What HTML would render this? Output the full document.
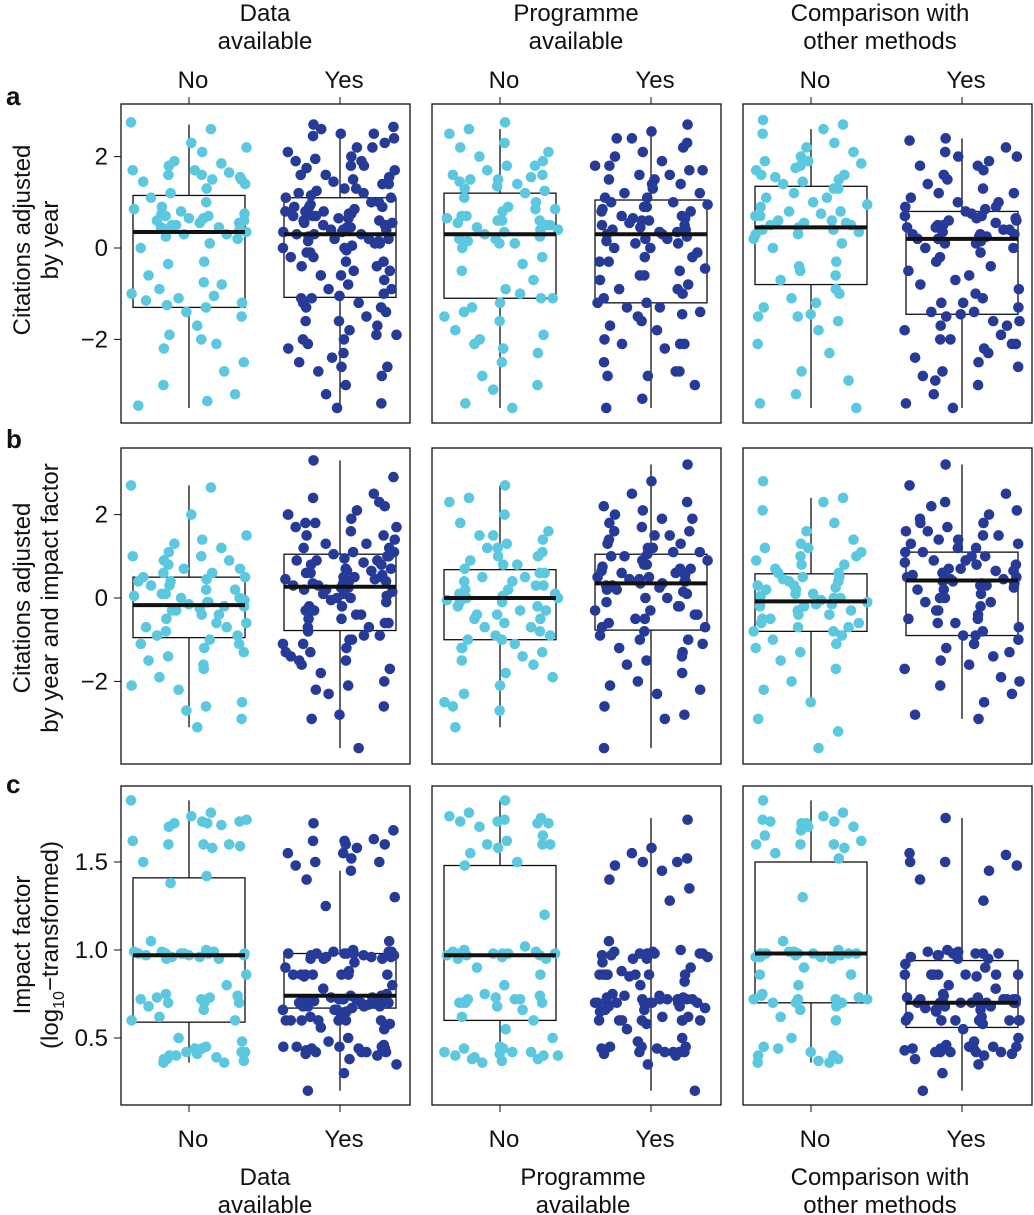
<!DOCTYPE html>
<html><head><meta charset="utf-8"><style>
html,body{margin:0;padding:0;background:#fff;}
svg{display:block;font-family:"Liberation Sans",sans-serif;}
</style></head><body>
<svg id="chart" width="1034" height="1215" viewBox="0 0 1034 1215" xmlns="http://www.w3.org/2000/svg">
<g id="texts" font-size="24" fill="#111" text-anchor="middle">
<text x="265" y="21">Data</text>
<text x="265" y="49">available</text>
<text x="576" y="21">Programme</text>
<text x="576" y="49">available</text>
<text x="880" y="21">Comparison with</text>
<text x="880" y="49">other methods</text>
<text x="265" y="1185">Data</text>
<text x="265" y="1213">available</text>
<text x="583" y="1185">Programme</text>
<text x="583" y="1213">available</text>
<text x="880" y="1185">Comparison with</text>
<text x="880" y="1213">other methods</text>
<text x="6" y="105" font-weight="bold" font-size="26" text-anchor="start">a</text>
<text x="6" y="448" font-weight="bold" font-size="26" text-anchor="start">b</text>
<text x="6" y="793" font-weight="bold" font-size="26" text-anchor="start">c</text>
<g transform="translate(44,240) rotate(-90)"><text x="0" y="-14">Citations adjusted</text><text x="0" y="14">by year</text></g>
<g transform="translate(44,598) rotate(-90)"><text x="0" y="-14">Citations adjusted</text><text x="0" y="14">by year and impact factor</text></g>
<g transform="translate(44,945) rotate(-90)"><text x="0" y="-14">Impact factor</text><text x="0" y="14">(log<tspan font-size="16" dy="6">10</tspan><tspan dy="-6">−transformed)</tspan></text></g>
</g>
<g id="plot"></g>
</svg>
<script>
var NS="http://www.w3.org/2000/svg";
var groups=["No","Yes"];
var ticksAB=[2,0,-2];
var tickLabelsAB=["2","0","−2"];
var ticksC=[1.5,1.0,0.5];
var tickLabelsC=["1.5","1.0","0.5"];
// box stats: [whiskerLow, q1, median, q3, whiskerHigh]
var boxA=[[-3.5,-1.3,0.35,1.15,2.7],[-3.5,-1.08,0.3,1.1,2.6],[-3.5,-1.1,0.3,1.2,2.6],[-3.5,-1.2,0.3,1.05,2.6],[-3.5,-0.8,0.45,1.35,2.6],[-3.5,-1.45,0.2,0.8,2.4]];
var boxB=[[-3.1,-0.95,-0.17,0.5,2.7],[-3.6,-0.78,0.27,1.05,3.3],[-3.1,-1.0,0.0,0.68,2.7],[-3.6,-0.77,0.35,1.05,3.2],[-2.6,-0.8,-0.08,0.58,2.4],[-2.9,-0.9,0.42,1.1,3.2]];
var boxC=[[0.36,0.59,0.97,1.41,1.85],[0.2,0.67,0.74,0.98,1.45],[0.36,0.6,0.97,1.48,1.85],[0.2,0.66,0.72,0.96,1.75],[0.36,0.7,0.98,1.5,1.85],[0.2,0.56,0.7,0.94,1.75]];
// point values
var ptsA=[
[2.75,2.6,2.3,2.2,2.1,1.9,1.85,1.8,1.7,1.65,1.6,1.55,1.5,1.45,1.3,1.2,1.1,1.0,0.9,0.85,0.8,0.75,0.7,0.65,0.6,0.55,0.5,0.45,0.4,0.35,0.3,0.25,0.2,0.1,0.0,-0.3,-0.35,-0.6,-0.75,-0.9,-1.0,-1.1,-1.2,-1.3,-1.4,-1.5,-1.7,-1.9,-2.1,-2.2,-2.5,-2.7,-3.0,-3.2,-3.35,-3.45,1.6,0.7,-1.15,-2.0,0.6,1.4,0.5,0.4,0.65,0.3,0.55,1.7,-1.25,-1.05,0.75,1.5,-0.8,0.45],
[2.7,2.65,2.5,2.45,2.3,2.2,2.1,2.0,1.95,1.9,1.8,1.75,1.7,1.6,1.55,1.5,1.45,1.4,1.3,1.25,1.2,1.15,1.1,1.0,0.95,0.9,0.85,0.8,0.75,0.7,0.7,0.65,0.6,0.55,0.5,0.5,0.45,0.4,0.4,0.35,0.3,0.3,0.25,0.2,0.2,0.15,0.1,0.05,0.0,-0.05,-0.1,-0.2,-0.3,-0.4,-0.5,-0.6,-0.7,-0.8,-0.9,-1.0,-1.05,-1.1,-1.2,-1.3,-1.4,-1.5,-1.6,-1.7,-1.8,-1.9,-2.0,-2.1,-2.2,-2.3,-2.5,-2.6,-2.7,-2.8,-3.0,-3.2,-3.4,-3.5,0.9,1.3,0.6,-0.3,1.8,-1.2,0.1,0.45,2.4,-2.6,0.8,1.1,-0.6,0.3,0.5,0.7,0.6,0.4,0.8,1.0,0.2,-0.1,-0.5,-1.1,-1.3,1.9,1.6,2.2,0.0,-0.9,-1.6,-2.0,0.35,0.65,0.9,1.4,-0.2,-0.4,2.5,2.6,-1.9,-2.4,0.55,0.75,1.2,0.15],
[2.75,2.6,2.5,2.3,2.2,2.1,2.0,1.9,1.8,1.7,1.6,1.5,1.5,1.4,1.3,1.25,1.2,1.1,1.0,0.9,0.85,0.8,0.7,0.65,0.6,0.55,0.5,0.45,0.4,0.35,0.3,0.25,0.2,0.15,0.1,0.0,-0.2,-0.35,-0.5,-0.7,-0.9,-1.1,-1.2,-1.4,-1.5,-1.6,-1.8,-1.9,-2.1,-2.3,-2.5,-2.8,-3.0,-3.1,-3.4,-3.5,1.45,0.6,-1.0,0.2,1.55,-2.2,0.5,0.6,0.7,0.4,1.35,1.6,-1.1,-1.3,0.85,0.1,-2.0,1.8],
[2.7,2.55,2.4,2.3,2.1,2.0,1.9,1.8,1.7,1.6,1.5,1.4,1.3,1.2,1.1,1.0,0.95,0.9,0.85,0.8,0.7,0.65,0.6,0.55,0.5,0.45,0.4,0.35,0.3,0.25,0.2,0.15,0.1,0.0,-0.1,-0.2,-0.3,-0.45,-0.6,-0.7,-0.8,-0.9,-1.0,-1.2,-1.3,-1.45,-1.5,-1.7,-1.8,-2.0,-2.1,-2.2,-2.5,-2.7,-2.8,-3.0,-3.3,-3.5,1.7,0.6,-1.2,0.4,2.4,-2.1,0.9,1.2,-0.5,0.1,-2.8,1.5,0.5,0.7,0.3,0.8,1.0,0.2,-0.2,-0.6,-1.1,-1.4,1.6,1.8,2.2,0.0,-0.9,-1.6,-2.1,0.35,0.65,1.1,1.4,-0.3,-2.7,-1.3],
[2.8,2.7,2.6,2.5,2.3,2.2,2.1,2.0,1.9,1.85,1.8,1.7,1.6,1.55,1.5,1.45,1.4,1.3,1.2,1.1,1.0,0.9,0.8,0.75,0.7,0.6,0.55,0.5,0.45,0.4,0.35,0.3,0.2,0.1,0.0,-0.3,-0.5,-0.7,-0.9,-1.1,-1.3,-1.45,-1.5,-1.6,-1.8,-2.1,-2.3,-2.7,-2.9,-3.2,-3.4,-3.5,1.75,0.95,-1.0,0.5,1.3,-1.5,0.6,0.4,0.8,1.6,1.9,0.3,-0.6,-1.2,0.7,1.1,-0.4,0.55],
[2.4,2.35,2.2,2.1,2.0,1.9,1.8,1.7,1.5,1.4,1.3,1.2,1.1,1.0,0.9,0.85,0.8,0.7,0.65,0.6,0.55,0.5,0.45,0.4,0.35,0.3,0.25,0.2,0.15,0.1,0.0,-0.1,-0.3,-0.5,-0.7,-0.9,-1.1,-1.2,-1.3,-1.4,-1.5,-1.6,-1.7,-1.8,-1.9,-2.0,-2.1,-2.2,-2.4,-2.5,-2.7,-2.8,-3.0,-3.2,-3.4,-3.5,0.6,0.3,-1.45,-2.1,0.75,1.6,-0.4,0.2,-2.6,1.0,0.5,0.4,0.7,0.3,0.1,-0.2,-0.8,-1.0,-1.4,-1.6,-2.0,1.2,1.8,2.0,0.0,-0.6,-1.2,-2.3,0.45,0.65,0.9,-2.9,-1.7,0.25]];
var ptsB=[
[2.7,2.65,2.0,1.5,1.4,1.3,1.2,1.1,1.0,0.9,0.8,0.7,0.6,0.5,0.45,0.4,0.3,0.2,0.1,0.05,0.0,-0.05,-0.1,-0.15,-0.2,-0.25,-0.3,-0.4,-0.5,-0.6,-0.7,-0.8,-0.9,-1.0,-1.1,-1.2,-1.4,-1.5,-1.7,-1.9,-2.1,-2.2,-2.5,-2.6,-2.7,-2.9,-3.1,0.3,-0.6,0.9,-1.3,-0.2,0.6,0.2,-0.1,0.4,-0.4,0.1,-0.7,1.0,-0.9,0.5,-0.3,0.0,-1.6,0.7,-1.1],
[3.3,2.9,2.5,2.4,2.2,2.1,2.0,1.9,1.8,1.7,1.6,1.5,1.4,1.3,1.2,1.1,1.05,1.0,0.95,0.9,0.85,0.8,0.7,0.65,0.6,0.55,0.5,0.45,0.4,0.35,0.3,0.25,0.2,0.15,0.1,0.05,0.0,-0.05,-0.1,-0.2,-0.3,-0.4,-0.5,-0.6,-0.7,-0.8,-0.9,-1.0,-1.1,-1.2,-1.3,-1.4,-1.5,-1.6,-1.7,-1.8,-2.0,-2.1,-2.3,-2.6,-2.8,-2.9,-3.6,0.6,0.4,1.3,-0.3,0.9,-1.0,1.7,0.1,-0.7,2.0,0.5,-1.5,1.0,0.3,0.5,0.7,0.2,0.8,0.0,-0.2,-0.4,1.2,1.5,-0.9,-1.1,0.45,0.65,1.1,-0.5,1.8,-1.3,0.25,0.9,-0.6,-2.2,2.3,0.35],
[2.7,2.4,2.3,2.0,1.8,1.6,1.5,1.4,1.3,1.2,1.1,1.0,0.9,0.8,0.7,0.6,0.5,0.4,0.3,0.2,0.1,0.05,0.0,-0.05,-0.1,-0.2,-0.3,-0.4,-0.5,-0.6,-0.7,-0.8,-0.9,-1.0,-1.1,-1.2,-1.3,-1.4,-1.5,-1.6,-1.8,-1.9,-2.1,-2.3,-2.5,-2.7,-3.1,0.3,-0.5,1.0,-1.0,0.5,-0.2,1.5,0.2,0.4,-0.1,0.6,-0.3,0.1,-0.7,0.8,-0.9,1.2,-1.2,0.0,-0.4,-2.6],
[3.2,2.8,2.5,2.3,2.1,2.0,1.9,1.8,1.6,1.5,1.4,1.3,1.2,1.1,1.05,1.0,0.9,0.8,0.75,0.7,0.6,0.55,0.5,0.45,0.4,0.35,0.3,0.25,0.2,0.1,0.0,-0.1,-0.2,-0.3,-0.4,-0.5,-0.6,-0.7,-0.8,-0.9,-1.0,-1.2,-1.3,-1.5,-1.6,-1.8,-2.0,-2.1,-2.3,-2.6,-2.8,-2.9,-3.6,0.6,1.2,-0.4,0.9,0.3,-1.1,1.7,0.5,0.4,0.2,0.7,0.8,1.0,-0.2,-0.5,1.3,1.5,-0.7,-1.4,0.35,0.65,1.1,0.0,1.9,-1.0,2.2,-2.2,0.45,-0.3,0.15,1.6],
[2.8,2.4,2.3,2.1,1.8,1.6,1.4,1.3,1.2,1.1,1.0,0.9,0.8,0.7,0.6,0.5,0.45,0.4,0.3,0.2,0.1,0.05,0.0,-0.05,-0.1,-0.15,-0.2,-0.3,-0.4,-0.5,-0.6,-0.7,-0.8,-0.9,-1.0,-1.1,-1.3,-1.5,-1.7,-2.0,-2.2,-2.5,-2.9,-3.2,-3.6,0.3,-0.4,0.8,-0.7,0.2,-0.2,1.0,0.1,-0.1,0.5,-0.5,0.0,-0.3,0.6,-0.8,0.4,-0.6,1.2,-1.2,0.25,-0.15],
[3.2,2.7,2.5,2.3,2.1,2.0,1.9,1.8,1.7,1.6,1.5,1.4,1.3,1.2,1.1,1.0,0.9,0.85,0.8,0.7,0.65,0.6,0.5,0.45,0.4,0.35,0.3,0.2,0.1,0.0,-0.1,-0.2,-0.3,-0.5,-0.6,-0.7,-0.8,-0.9,-1.0,-1.1,-1.2,-1.4,-1.5,-1.7,-1.9,-2.1,-2.3,-2.5,-2.8,-2.9,0.6,1.1,-0.4,0.9,1.6,0.4,0.5,0.3,0.7,0.8,1.0,0.2,-0.1,-0.3,1.3,1.5,-0.6,-1.3,0.35,0.55,1.2,0.0,1.8,-0.9,2.2,-2.0,0.45,0.25,-0.5,1.4,0.65,-1.6]];
var ptsC=[
[1.85,1.78,1.76,1.74,1.73,1.72,1.71,1.7,1.62,1.6,1.6,1.59,1.58,1.5,1.42,1.38,1.05,1.0,0.99,0.99,0.98,0.98,0.98,0.97,0.97,0.96,0.96,0.95,0.95,0.86,0.8,0.75,0.74,0.73,0.72,0.7,0.7,0.68,0.66,0.62,0.6,0.5,0.48,0.45,0.42,0.42,0.41,0.4,0.39,0.38,0.37,0.36,0.36,0.6,1.72,0.98,0.44,0.98,0.97,0.72,0.73,0.42,0.4,1.73,1.6,0.98,0.7,0.44,0.38,0.99],
[1.72,1.68,1.63,1.62,1.6,1.58,1.55,1.52,1.5,1.48,1.45,1.4,1.3,1.25,1.05,1.0,0.99,0.99,0.98,0.98,0.97,0.97,0.96,0.96,0.95,0.95,0.93,0.9,0.88,0.86,0.86,0.86,0.85,0.8,0.78,0.75,0.74,0.73,0.72,0.72,0.71,0.7,0.7,0.7,0.69,0.68,0.68,0.67,0.66,0.65,0.62,0.6,0.6,0.6,0.58,0.56,0.55,0.5,0.48,0.46,0.45,0.44,0.44,0.43,0.42,0.42,0.41,0.4,0.38,0.35,0.3,0.2,0.98,0.72,0.7,0.86,0.6,0.45,1.6,0.96,0.74,0.66,0.7,0.72,0.7,0.74,0.68,0.72,0.7,0.98,0.97,0.86,0.86,0.6,0.62,0.45,0.44,0.42,1.5,1.55,0.95,0.7,0.66,0.72,0.98,0.86,0.6,0.42,0.7,0.73,1.62,0.99,0.72,0.68,0.45,0.6],
[1.85,1.78,1.76,1.74,1.73,1.72,1.7,1.65,1.62,1.6,1.6,1.58,1.55,1.5,1.48,1.2,1.02,1.0,0.99,0.98,0.98,0.98,0.97,0.97,0.96,0.95,0.95,0.9,0.86,0.8,0.75,0.74,0.73,0.72,0.72,0.7,0.7,0.66,0.62,0.6,0.55,0.5,0.45,0.44,0.42,0.41,0.4,0.4,0.39,0.38,0.37,0.36,1.72,0.98,0.7,0.42,0.98,0.97,0.72,0.7,0.42,0.44,1.6,1.73,0.98,0.4,0.68,0.99,1.75,0.38],
[1.74,1.58,1.55,1.52,1.5,1.48,1.45,1.4,1.35,1.28,1.05,1.0,0.99,0.98,0.98,0.97,0.96,0.95,0.93,0.9,0.88,0.86,0.86,0.85,0.82,0.8,0.75,0.74,0.73,0.72,0.72,0.71,0.7,0.7,0.7,0.69,0.68,0.67,0.66,0.65,0.62,0.6,0.6,0.58,0.55,0.5,0.48,0.45,0.44,0.43,0.42,0.42,0.41,0.4,0.35,0.2,0.72,0.86,0.98,0.6,0.7,0.45,0.7,0.72,0.7,0.74,0.68,0.86,0.86,0.98,0.97,0.6,0.62,0.44,0.42,0.7,0.72,0.98,0.86,0.6,0.42,0.7,0.73,0.99,0.72,0.45,0.6,1.5,0.95,0.66,0.7,0.86,0.42,0.72,0.6],
[1.85,1.78,1.76,1.74,1.73,1.72,1.7,1.68,1.65,1.62,1.6,1.6,1.58,1.55,1.52,1.3,1.05,1.0,0.99,0.98,0.98,0.98,0.97,0.96,0.96,0.95,0.9,0.86,0.8,0.75,0.73,0.72,0.72,0.7,0.7,0.68,0.66,0.62,0.6,0.5,0.45,0.42,0.4,0.38,0.37,0.36,0.36,1.72,0.98,0.7,0.86,0.98,0.97,0.72,0.7,1.73,1.6,0.98,0.44,0.4,0.99,0.74,1.7,0.96,0.72],
[1.75,1.55,1.54,1.5,1.48,1.45,1.4,1.28,1.0,0.99,0.98,0.97,0.96,0.95,0.92,0.9,0.86,0.86,0.85,0.8,0.78,0.75,0.73,0.72,0.71,0.7,0.7,0.7,0.69,0.68,0.67,0.66,0.65,0.62,0.6,0.6,0.58,0.55,0.5,0.48,0.46,0.45,0.44,0.43,0.42,0.42,0.41,0.4,0.38,0.35,0.3,0.2,0.72,0.86,0.6,0.98,0.45,0.7,0.7,0.72,0.7,0.74,0.68,0.86,0.86,0.98,0.97,0.6,0.62,0.44,0.42,0.7,0.72,0.98,0.86,0.6,0.42,0.7,0.73,0.99,0.72,0.45,0.6,0.95,0.66,0.7,0.86,0.42,0.72,0.6,1.5,0.44]];

var rows=[
 {top:104,bot:423,y0:248,k:45.7,v0:0,ticks:ticksAB,labels:tickLabelsAB,box:boxA,pts:ptsA,name:"a"},
 {top:448,bot:764,y0:598,k:41.7,v0:0,ticks:ticksAB,labels:tickLabelsAB,box:boxB,pts:ptsB,name:"b"},
 {top:786,bot:1105,y0:950,k:176,v0:1.0,ticks:ticksC,labels:tickLabelsC,box:boxC,pts:ptsC,name:"c"}];
var cols=[121,432,743], colW=289;
var offs=[68,219], boxHalf=56;
var colors=["#5bc8e0","#263b98"];
var plot=document.getElementById("plot");
function mk(tag,attrs,parent){var e=document.createElementNS(NS,tag);for(var a in attrs)e.setAttribute(a,attrs[a]);(parent||plot).appendChild(e);return e;}
function txt(x,y,s,anchor,parent){var t=mk("text",{x:x,y:y,"font-size":24,fill:"#111","text-anchor":anchor||"middle"},parent);t.textContent=s;return t;}
function jit(i,g){var v=(i*0.618034+g*0.2718+((i*i)%7)*0.071)%1;return v*2-1;}

rows.forEach(function(r,ri){
 function ys(v){return r.y0-(v-r.v0)*r.k;}
 cols.forEach(function(cx,ci){
  var panel=mk("g",{});
  
  
  groups.forEach(function(gname,gi){
   var idx=ci*2+gi, b=r.box[idx], xc=cx+offs[gi];
   var w=mk("line",{x1:xc,x2:xc,y1:ys(b[0]),y2:ys(b[4]),stroke:"#111","stroke-width":1.3},panel);
   
   
   if(!(ri==2&&ci==1&&gi==1)){
    var bx=mk("rect",{x:xc-boxHalf,y:ys(b[3]),width:boxHalf*2,height:ys(b[1])-ys(b[3]),fill:"#fff",stroke:"#111","stroke-width":1.3},panel);
    
    
   }
   r.pts[idx].forEach(function(v,i){
    var c=mk("circle",{cx:xc+jit(i,idx)*58,cy:ys(v),r:5.3,fill:colors[gi]},panel);
    
    
   });
   if(!(ri==2&&ci==1&&gi==1)){
    var m=mk("line",{x1:xc-boxHalf,x2:xc+boxHalf,y1:ys(b[2]),y2:ys(b[2]),stroke:"#111","stroke-width":4},panel);
    
    
   }
   if(ri==0){var t=txt(xc+4,88,gname);
    var tk=mk("line",{x1:xc,x2:xc,y1:r.top,y2:r.top-7,stroke:"#111"});}
   if(ri==2){var t2=txt(xc+4,1147,gname);
    var tk2=mk("line",{x1:xc,x2:xc,y1:r.bot,y2:r.bot+7,stroke:"#111"});}
  });
  var fr=mk("rect",{x:cx,y:r.top,width:colW,height:r.bot-r.top,fill:"none",stroke:"#111","stroke-width":1.3},panel);
  
  
 });
 r.ticks.forEach(function(v,i){
  var l=mk("line",{x1:114,x2:121,y1:ys(v),y2:ys(v),stroke:"#111"});
  
  
  var t=txt(108,ys(v)+8,r.labels[i],"end");
  
  
 });
});
</script>
</body></html>
